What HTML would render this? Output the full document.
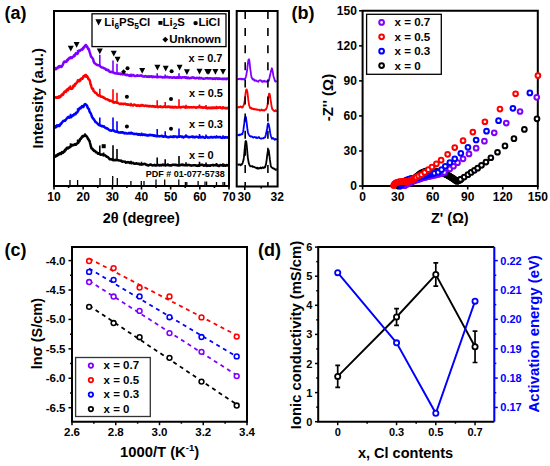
<!DOCTYPE html>
<html><head><meta charset="utf-8"><style>
html,body{margin:0;padding:0;background:#fff;width:550px;height:466px;overflow:hidden}
svg{display:block}
</style></head><body>
<svg width="550" height="466" viewBox="0 0 550 466" font-family="Liberation Sans, sans-serif" font-weight="bold">
<rect width="550" height="466" fill="#fff"/>
<text x="4.5" y="19.2" font-size="18" text-anchor="start" fill="#000" >(a)</text>
<text x="291.5" y="19.2" font-size="18" text-anchor="start" fill="#000" >(b)</text>
<text x="4.5" y="255.8" font-size="18" text-anchor="start" fill="#000" >(c)</text>
<text x="258" y="255.8" font-size="18" text-anchor="start" fill="#000" >(d)</text>
<g fill="none" stroke-linejoin="round" stroke-linecap="round">
<path d="M54.5,156.81 L55,156.07 L55.5,156.62 L56,155.56 L56.5,155.9 L57,155.58 L57.5,154.68 L58,155.06 L58.5,154.15 L59,154.42 L59.5,153.67 L60,153.25 L60.5,153.41 L61,154.06 L61.5,152.69 L62,152.04 L62.5,152.33 L63,152.87 L63.5,152.13 L64,151.2 L64.5,151.71 L65,149.82 L65.5,150.38 L66,149.32 L66.5,148.39 L67,147.75 L67.5,147.68 L68,148.5 L68.5,147.42 L69,147.57 L69.5,147.58 L70,146.88 L70.5,146.74 L71,145.53 L71.5,144.89 L72,144.78 L72.5,145.56 L73,145.28 L73.5,144.8 L74,145.01 L74.5,144.71 L75,144.14 L75.5,144.77 L76,144.73 L76.5,143.67 L77,143.73 L77.5,143.07 L78,143.09 L78.5,142.42 L79,140.84 L79.5,141.15 L80,139.15 L80.5,138.68 L81,138.88 L81.5,137.46 L82,137.24 L82.5,135.95 L83,136.37 L83.5,136.48 L84,135.86 L84.5,135.92 L85,134.54 L85.5,135.44 L86,135.94 L86.5,136.42 L87,136.68 L87.5,137.87 L88,138.9 L88.5,139.07 L89,140.57 L89.5,140.82 L90,143.01 L90.5,144.69 L91,146.93 L91.5,148.38 L92,148.24 L92.5,148.77 L93,150.03 L93.5,149.74 L94,150.94 L94.5,150.78 L95,151.18 L95.5,151.46 L96,152.36 L96.5,152.34 L97,152.58 L97.5,152.96 L98,153.71 L98.5,153.34 L99,153.58 L99.5,153.84 L100,154.33 L100.5,154.56 L101,154.77 L101.5,154.41 L102,154.44 L102.5,154.47 L103,155.03 L103.5,155.41 L104,154.93 L104.5,155.01 L105,155.28 L105.5,155.59 L106,156.13 L106.5,156.66 L107,156.78 L107.5,156.79 L108,157.35 L108.5,157.74 L109,158.28 L109.5,159.05 L110,159.34 L110.5,159.28 L111,159.4 L111.5,159.57 L112,159.15 L112.5,159.78 L113,160.01 L113.5,160.27 L114,160.37 L114.5,160.11 L115,160.07 L115.5,159.84 L116,160.27 L116.5,160.01 L117,159.96 L117.5,160.13 L118,160.22 L118.5,160.48 L119,160.4 L119.5,160.38 L120,160.57 L120.5,160.64 L121,160.96 L121.5,160.84 L122,161.6 L122.5,161.76 L123,161.45 L123.5,161.46 L124,161.59 L124.5,161.71 L125,161.6 L125.5,162.25 L126,162.71 L126.5,162.5 L127,162.46 L127.5,162.13 L128,162.05 L128.5,162.27 L129,162.35 L129.5,162.94 L130,162.65 L130.5,162.41 L131,163.17 L131.5,163.16 L132,162.84 L132.5,163.08 L133,162.75 L133.5,163.08 L134,163.67 L134.5,163.86 L135,163.82 L135.5,163.44 L136,163.39 L136.5,163.22 L137,163.72 L137.5,163.75 L138,164.02 L138.5,163.77 L139,163.58 L139.5,164.06 L140,164.46 L140.5,164.55 L141,164.58 L141.5,164.63 L142,164.61 L142.5,164.17 L143,164.26 L143.5,164.19 L144,163.89 L144.5,163.78 L145,163.99 L145.5,164.09 L146,164.56 L146.5,165.03 L147,164.82 L147.5,165.19 L148,165.43 L148.5,165.54 L149,165.09 L149.5,164.78 L150,164.68 L150.5,164.58 L151,164.55 L151.5,164.91 L152,165.32 L152.5,165.45 L153,165.18 L153.5,165.22 L154,165.37 L154.5,164.79 L155,165.05 L155.5,165.39 L156,165.43 L156.5,165.42 L157,165.17 L157.5,164.79 L158,165.16 L158.5,164.92 L159,165.24 L159.5,165.53 L160,165.15 L160.5,164.98 L161,165.39 L161.5,165.38 L162,164.87 L162.5,164.61 L163,164.51 L163.5,165.14 L164,165.34 L164.5,164.83 L165,165.22 L165.5,165.53 L166,165.39 L166.5,165.05 L167,165.08 L167.5,164.71 L168,164.45 L168.5,165.19 L169,165.24 L169.5,165.15 L170,165.48 L170.5,165.18 L171,165.44 L171.5,165.52 L172,165.01 L172.5,164.81 L173,164.77 L173.5,164.7 L174,164.98 L174.5,164.82 L175,164.89 L175.5,164.67 L176,165.27 L176.5,165.04 L177,165.03 L177.5,165.15 L178,165.49 L178.5,165.21 L179,165.53 L179.5,165.3 L180,165.23 L180.5,165.19 L181,164.72 L181.5,164.89 L182,164.74 L182.5,164.51 L183,165.13 L183.5,164.84 L184,164.99 L184.5,165.28 L185,165.27 L185.5,165.05 L186,165.13 L186.5,165.2 L187,165.44 L187.5,164.94 L188,165.13 L188.5,164.93 L189,164.87 L189.5,165.3 L190,165.25 L190.5,165.28 L191,165.47 L191.5,165.7 L192,165.38 L192.5,165.39 L193,165.3 L193.5,165.27 L194,165.42 L194.5,165.28 L195,165.28 L195.5,165.24 L196,165.64 L196.5,165.6 L197,165.75 L197.5,165.88 L198,165.32 L198.5,165.34 L199,165.7 L199.5,165.77 L200,165.17 L200.5,164.89 L201,165.06 L201.5,164.8 L202,164.84 L202.5,164.71 L203,165.18 L203.5,165.51 L204,165.75 L204.5,165.2 L205,165.46 L205.5,165.53 L206,165.09 L206.5,165.57 L207,165.86 L207.5,165.32 L208,165.74 L208.5,165.43 L209,165.37 L209.5,165.8 L210,165.85 L210.5,165.28 L211,165.26 L211.5,165.33 L212,165.21 L212.5,165.03 L213,165.06 L213.5,165.44 L214,164.98 L214.5,165.25 L215,165.28 L215.5,164.91 L216,165.03 L216.5,165.35 L217,165.39 L217.5,165.01 L218,165.67 L218.5,165.79 L219,166.02 L219.5,165.34 L220,165.18 L220.5,164.91 L221,165.45 L221.5,165.24 L222,165.02 L222.5,165.19 L223,165.71 L223.5,165.86 L224,165.42 L224.5,165.13 L225,165.7 L225.5,165.64 L226,165.73 L226.5,165.23 L227,164.97 L227.5,165.43 L228,165.4 L228.5,165.07" stroke="#000" stroke-width="2.5"/>
<path d="M70.5,147.21 L70.5,143.26 M77.6,143.36 L77.6,139.41 M99.8,154.45 L99.8,145.45 M113,160.16 L113,145.28 M117,161.04 L117,149.04 M131,163.5 L131,160.7 M141.5,164.61 L141.5,161.81 M157.2,165.5 L157.2,157.53 M165.2,165.5 L165.2,159.25 M179,165.61 L179,155.91 M186,165.66 L186,162.29 M199.5,165.77 L199.5,161.82 M206,165.82 L206,162.45 M216.5,165.9 L216.5,163.1 M223,165.95 L223,163.15 M103.6,155.4 L103.6,152.4" stroke="#000" stroke-width="1.6" stroke-linecap="butt"/>
<path d="M54.5,127.89 L55,127.49 L55.5,127.53 L56,126 L56.5,126.76 L57,125.4 L57.5,126.3 L58,125.76 L58.5,125.19 L59,125.25 L59.5,125.93 L60,124.8 L60.5,123.9 L61,124.2 L61.5,123.37 L62,122.48 L62.5,121.94 L63,121.21 L63.5,120.93 L64,120.78 L64.5,120.44 L65,120.95 L65.5,119.98 L66,119.71 L66.5,118.71 L67,118.48 L67.5,117.54 L68,117.41 L68.5,116.7 L69,117.66 L69.5,117.55 L70,116.59 L70.5,116.56 L71,117.3 L71.5,115.79 L72,116.35 L72.5,115.57 L73,115.12 L73.5,115.38 L74,114.37 L74.5,113.93 L75,113.87 L75.5,114.21 L76,112.85 L76.5,113 L77,112.59 L77.5,112.03 L78,111.04 L78.5,110.23 L79,109.02 L79.5,108.38 L80,107.72 L80.5,108.53 L81,107.67 L81.5,106.84 L82,106.06 L82.5,106.99 L83,107.22 L83.5,106.69 L84,105.42 L84.5,104.53 L85,104 L85.5,104.4 L86,104.41 L86.5,105.26 L87,105.54 L87.5,107.34 L88,108.44 L88.5,108.7 L89,109.18 L89.5,111.61 L90,112.13 L90.5,113.21 L91,113.72 L91.5,115.47 L92,116.78 L92.5,117.83 L93,118.15 L93.5,119.37 L94,119.36 L94.5,120.34 L95,121.26 L95.5,122 L96,122.22 L96.5,122.5 L97,123.1 L97.5,123.51 L98,124.22 L98.5,124.58 L99,125.01 L99.5,125.23 L100,125.48 L100.5,125.85 L101,125.68 L101.5,125.65 L102,126.33 L102.5,125.99 L103,126.46 L103.5,126.7 L104,126.37 L104.5,127.04 L105,127.54 L105.5,127.71 L106,128.04 L106.5,128.42 L107,128.14 L107.5,128.52 L108,128.83 L108.5,129.43 L109,129.83 L109.5,130.19 L110,130.29 L110.5,130.61 L111,130.63 L111.5,130.72 L112,130.41 L112.5,130.16 L113,130.21 L113.5,130.51 L114,130.48 L114.5,131.19 L115,131.33 L115.5,131.53 L116,131.68 L116.5,131.87 L117,131.85 L117.5,131.47 L118,132.09 L118.5,132.39 L119,132.37 L119.5,132.46 L120,132.68 L120.5,132.24 L121,132.67 L121.5,132.46 L122,132.23 L122.5,132.33 L123,132.82 L123.5,132.59 L124,133 L124.5,133.42 L125,133.21 L125.5,133.04 L126,133.08 L126.5,133.3 L127,133.51 L127.5,133.49 L128,133.54 L128.5,133.08 L129,132.96 L129.5,133.03 L130,133.53 L130.5,133.38 L131,133.58 L131.5,133.19 L132,133.08 L132.5,133.25 L133,133.71 L133.5,133.96 L134,134.08 L134.5,133.82 L135,133.93 L135.5,133.95 L136,133.99 L136.5,133.72 L137,134.32 L137.5,133.99 L138,134.57 L138.5,134.81 L139,134.12 L139.5,134.23 L140,134.63 L140.5,134.97 L141,134.68 L141.5,134.41 L142,134.26 L142.5,134.88 L143,134.53 L143.5,134.72 L144,134.44 L144.5,134.68 L145,135.2 L145.5,134.72 L146,135.15 L146.5,135.09 L147,135.42 L147.5,135.44 L148,135.04 L148.5,135.49 L149,135.34 L149.5,134.89 L150,134.69 L150.5,135.06 L151,135.21 L151.5,135.17 L152,135.03 L152.5,135.18 L153,135.24 L153.5,135.77 L154,135.27 L154.5,135.75 L155,136.06 L155.5,135.58 L156,136.12 L156.5,136.19 L157,136.41 L157.5,135.99 L158,135.9 L158.5,135.9 L159,136.47 L159.5,136.38 L160,136.16 L160.5,136.14 L161,136.02 L161.5,135.78 L162,135.75 L162.5,136.42 L163,136.25 L163.5,136.78 L164,136.43 L164.5,136.31 L165,136.5 L165.5,136.28 L166,136.35 L166.5,136.91 L167,137.11 L167.5,137.13 L168,136.98 L168.5,137.17 L169,137.29 L169.5,136.99 L170,137.02 L170.5,136.43 L171,136.78 L171.5,136.69 L172,136.93 L172.5,136.94 L173,136.62 L173.5,136.27 L174,136.91 L174.5,136.48 L175,136.6 L175.5,136.54 L176,136.48 L176.5,136.85 L177,137.24 L177.5,136.77 L178,136.92 L178.5,136.67 L179,136.8 L179.5,136.71 L180,136.47 L180.5,136.36 L181,136.36 L181.5,136.99 L182,136.91 L182.5,136.62 L183,137.12 L183.5,137.43 L184,137.08 L184.5,136.64 L185,136.5 L185.5,136.35 L186,136.51 L186.5,136.36 L187,136.43 L187.5,136.48 L188,136.79 L188.5,137.22 L189,137.29 L189.5,137.03 L190,136.91 L190.5,136.96 L191,136.86 L191.5,136.78 L192,136.5 L192.5,136.57 L193,137.23 L193.5,136.77 L194,136.91 L194.5,137.09 L195,137.38 L195.5,136.93 L196,136.79 L196.5,136.7 L197,136.81 L197.5,136.9 L198,137.4 L198.5,137.54 L199,137.62 L199.5,136.9 L200,136.59 L200.5,137.06 L201,137.45 L201.5,137.24 L202,137.26 L202.5,136.74 L203,136.86 L203.5,137.4 L204,137.56 L204.5,137.66 L205,137.81 L205.5,137.24 L206,136.85 L206.5,136.73 L207,137.01 L207.5,137.28 L208,137.64 L208.5,137.61 L209,137.53 L209.5,137.6 L210,137.36 L210.5,137.35 L211,136.88 L211.5,137.34 L212,137.06 L212.5,137.56 L213,137.54 L213.5,137.22 L214,136.93 L214.5,136.91 L215,137.25 L215.5,137.47 L216,137.04 L216.5,136.81 L217,137.12 L217.5,137.32 L218,137.24 L218.5,137.05 L219,137.32 L219.5,136.91 L220,136.99 L220.5,137.17 L221,137.71 L221.5,137.67 L222,137.87 L222.5,137.6 L223,137.26 L223.5,137.13 L224,137.71 L224.5,137.75 L225,137.41 L225.5,137.01 L226,137.26 L226.5,137.53 L227,137.43 L227.5,137.24 L228,137.53 L228.5,137.9" stroke="#0000ff" stroke-width="2.5"/>
<path d="M70.5,117.39 L70.5,113.74 M77.6,111.82 L77.6,108.17 M99.8,125.61 L99.8,117.61 M113,131.25 L113,117.62 M117,132.25 L117,121.25 M131,134.09 L131,131.49 M141.5,135.03 L141.5,132.44 M157.2,136.42 L157.2,129.1 M165.2,137.1 L165.2,131.35 M179,137.3 L179,128.4 M186,137.4 L186,134.27 M199.5,137.59 L199.5,133.94 M206,137.68 L206,134.55 M216.5,137.82 L216.5,135.22 M223,137.92 L223,135.32" stroke="#0000ff" stroke-width="1.6" stroke-linecap="butt"/>
<path d="M54.5,98.05 L55,97.21 L55.5,97.34 L56,97.45 L56.5,97.92 L57,97.04 L57.5,97.75 L58,97.84 L58.5,97.3 L59,96.34 L59.5,97.34 L60,96.35 L60.5,96.83 L61,95.74 L61.5,94.81 L62,95.2 L62.5,94.16 L63,94.74 L63.5,93.79 L64,92.46 L64.5,91.66 L65,91.41 L65.5,91.52 L66,91.86 L66.5,90.16 L67,89.83 L67.5,89.16 L68,90.26 L68.5,88.91 L69,87.98 L69.5,87.42 L70,87.7 L70.5,88.69 L71,88.96 L71.5,88.63 L72,88.82 L72.5,88.47 L73,86.83 L73.5,85.56 L74,86.25 L74.5,85.93 L75,84.09 L75.5,84.3 L76,83.56 L76.5,82.97 L77,82.36 L77.5,81.51 L78,80.55 L78.5,80.42 L79,80.26 L79.5,81.16 L80,79.63 L80.5,80.39 L81,78.96 L81.5,78.36 L82,78.78 L82.5,78.73 L83,77.67 L83.5,76.19 L84,76.15 L84.5,75.69 L85,76.36 L85.5,74.96 L86,75.19 L86.5,76.75 L87,75.98 L87.5,76.69 L88,78.1 L88.5,79.27 L89,79.31 L89.5,80.06 L90,81.2 L90.5,84.21 L91,84.96 L91.5,87.05 L92,88.62 L92.5,88.6 L93,88.92 L93.5,90.91 L94,91.57 L94.5,91.61 L95,92.67 L95.5,92.83 L96,93.08 L96.5,93.15 L97,94.07 L97.5,94.83 L98,95.13 L98.5,95.66 L99,95.17 L99.5,95.27 L100,95.65 L100.5,96.38 L101,96.83 L101.5,96.65 L102,96.57 L102.5,96.82 L103,97.12 L103.5,97.76 L104,97.51 L104.5,98.08 L105,98.43 L105.5,98.83 L106,99.13 L106.5,99.28 L107,99.25 L107.5,99.39 L108,99.64 L108.5,100.3 L109,100.12 L109.5,100.3 L110,101.04 L110.5,100.92 L111,100.77 L111.5,100.75 L112,101.28 L112.5,101.39 L113,102.09 L113.5,102.4 L114,102.7 L114.5,102.25 L115,101.96 L115.5,101.92 L116,102.33 L116.5,102.77 L117,102.81 L117.5,102.71 L118,102.9 L118.5,103.24 L119,103.51 L119.5,103.77 L120,104.05 L120.5,104 L121,103.53 L121.5,103.99 L122,103.74 L122.5,103.9 L123,103.83 L123.5,104.15 L124,103.84 L124.5,103.78 L125,103.78 L125.5,103.73 L126,104.39 L126.5,104.44 L127,104.27 L127.5,104.29 L128,104.86 L128.5,104.71 L129,104.43 L129.5,104.85 L130,104.93 L130.5,105.29 L131,104.67 L131.5,104.75 L132,105.12 L132.5,105.33 L133,105.52 L133.5,104.84 L134,104.78 L134.5,104.62 L135,104.64 L135.5,105.37 L136,105.38 L136.5,105.72 L137,105.39 L137.5,105.71 L138,105.5 L138.5,105.26 L139,105.64 L139.5,105.99 L140,105.41 L140.5,105.62 L141,105.75 L141.5,105.48 L142,105.51 L142.5,105.35 L143,105.35 L143.5,105.42 L144,105.79 L144.5,106.02 L145,105.75 L145.5,105.48 L146,105.66 L146.5,106.08 L147,105.85 L147.5,105.89 L148,105.83 L148.5,106.36 L149,106.4 L149.5,106 L150,105.88 L150.5,106.09 L151,106.33 L151.5,106.53 L152,106.13 L152.5,106.03 L153,106.47 L153.5,106.42 L154,106.3 L154.5,106.27 L155,106.85 L155.5,106.54 L156,106.64 L156.5,106.51 L157,106.51 L157.5,106.92 L158,107.24 L158.5,106.82 L159,106.49 L159.5,106.83 L160,106.52 L160.5,106.21 L161,106.88 L161.5,106.77 L162,107.08 L162.5,106.86 L163,107.2 L163.5,106.98 L164,106.62 L164.5,106.34 L165,106.7 L165.5,106.95 L166,107.3 L166.5,106.73 L167,106.96 L167.5,106.84 L168,106.91 L168.5,106.62 L169,106.62 L169.5,106.84 L170,107.31 L170.5,106.79 L171,106.9 L171.5,107.24 L172,107.54 L172.5,106.99 L173,106.68 L173.5,107.29 L174,107.59 L174.5,107.29 L175,106.77 L175.5,107.33 L176,107.1 L176.5,107.47 L177,107.38 L177.5,107.53 L178,107 L178.5,107.34 L179,106.98 L179.5,106.99 L180,107.4 L180.5,107.57 L181,107.07 L181.5,106.88 L182,106.97 L182.5,107.12 L183,107.07 L183.5,106.81 L184,106.82 L184.5,107.25 L185,107.61 L185.5,107 L186,107.21 L186.5,107.48 L187,106.96 L187.5,107.45 L188,107.02 L188.5,107.27 L189,107.34 L189.5,107.45 L190,107.21 L190.5,107.21 L191,107.37 L191.5,107.3 L192,107.48 L192.5,107.38 L193,107.33 L193.5,106.94 L194,107.3 L194.5,107.35 L195,107.15 L195.5,107.54 L196,107.74 L196.5,107.54 L197,107.21 L197.5,107.32 L198,107.05 L198.5,106.96 L199,107.19 L199.5,106.99 L200,107.22 L200.5,107.39 L201,107.05 L201.5,107.44 L202,107.12 L202.5,107.57 L203,107.81 L203.5,107.69 L204,107.23 L204.5,107.43 L205,107.41 L205.5,107.92 L206,107.42 L206.5,107.85 L207,108.18 L207.5,108.09 L208,108.13 L208.5,107.59 L209,108.06 L209.5,107.84 L210,108.16 L210.5,108.28 L211,107.66 L211.5,107.94 L212,108.21 L212.5,107.55 L213,107.52 L213.5,107.87 L214,107.5 L214.5,108 L215,107.67 L215.5,108.01 L216,107.57 L216.5,107.69 L217,108.13 L217.5,107.69 L218,107.55 L218.5,107.71 L219,107.61 L219.5,107.32 L220,107.33 L220.5,107.32 L221,108.01 L221.5,108.1 L222,108.34 L222.5,107.8 L223,108.11 L223.5,107.66 L224,107.83 L224.5,108.01 L225,107.84 L225.5,108.24 L226,108.13 L226.5,108.11 L227,108.38 L227.5,107.8 L228,108.35 L228.5,108.27" stroke="#ff0000" stroke-width="2.5"/>
<path d="M70.5,88.76 L70.5,85.26 M77.6,82.82 L77.6,79.32 M99.8,96.23 L99.8,88.73 M113,102.28 L113,89.28 M117,103.32 L117,92.82 M131,105.28 L131,102.78 M141.5,106.18 L141.5,103.68 M157.2,107.14 L157.2,100.14 M165.2,107.4 L165.2,101.9 M179,107.64 L179,99.14 M186,107.76 L186,104.76 M199.5,107.99 L199.5,104.49 M206,108.1 L206,105.1 M216.5,108.29 L216.5,105.79 M223,108.4 L223,105.9" stroke="#ff0000" stroke-width="1.6" stroke-linecap="butt"/>
<path d="M54.5,68.59 L55,69.12 L55.5,68.17 L56,69.11 L56.5,68.59 L57,67.81 L57.5,68.17 L58,67.57 L58.5,66.66 L59,67.29 L59.5,66.06 L60,66.97 L60.5,66.12 L61,66.41 L61.5,66.84 L62,65.96 L62.5,65.45 L63,64.24 L63.5,62.79 L64,61.94 L64.5,61.52 L65,62 L65.5,61.58 L66,61.28 L66.5,61.7 L67,60.27 L67.5,59.66 L68,60.11 L68.5,58.88 L69,58.14 L69.5,58.36 L70,57.81 L70.5,57.92 L71,57.55 L71.5,57.97 L72,57.98 L72.5,56.89 L73,56.99 L73.5,56.49 L74,55.33 L74.5,56.18 L75,54.91 L75.5,53.89 L76,53.08 L76.5,53.56 L77,54 L77.5,53.77 L78,52.66 L78.5,51.65 L79,50.44 L79.5,50.94 L80,50.75 L80.5,50 L81,50.02 L81.5,49.38 L82,49.85 L82.5,49.41 L83,47.99 L83.5,48.43 L84,46.64 L84.5,46.58 L85,46.05 L85.5,45.23 L86,45.01 L86.5,46.73 L87,46.23 L87.5,47.36 L88,48.94 L88.5,48.65 L89,49.62 L89.5,51.64 L90,53.09 L90.5,54.77 L91,56.62 L91.5,56.91 L92,57.66 L92.5,58.41 L93,58.71 L93.5,61.03 L94,62.33 L94.5,63.25 L95,63.16 L95.5,63.88 L96,64.3 L96.5,64.44 L97,64.94 L97.5,65.09 L98,65.15 L98.5,65.19 L99,65.42 L99.5,65.48 L100,65.89 L100.5,66.58 L101,66.96 L101.5,67.4 L102,67.6 L102.5,67.41 L103,67.71 L103.5,67.86 L104,68.38 L104.5,68.49 L105,68.46 L105.5,68.96 L106,69.64 L106.5,69.43 L107,70.09 L107.5,69.76 L108,70 L108.5,70.24 L109,70.97 L109.5,71.63 L110,71.91 L110.5,71.65 L111,72.11 L111.5,71.88 L112,71.77 L112.5,72.39 L113,72.49 L113.5,72.65 L114,72.77 L114.5,73.18 L115,72.97 L115.5,73.28 L116,73.36 L116.5,73.61 L117,73.41 L117.5,73.65 L118,73.69 L118.5,73.54 L119,73.45 L119.5,73.85 L120,73.61 L120.5,74.26 L121,73.9 L121.5,73.66 L122,73.67 L122.5,74.44 L123,74.3 L123.5,74.09 L124,73.93 L124.5,73.91 L125,74.52 L125.5,74.78 L126,74.98 L126.5,75.15 L127,74.66 L127.5,74.94 L128,74.9 L128.5,75.33 L129,75.56 L129.5,75.76 L130,75.15 L130.5,75.6 L131,75.86 L131.5,76.03 L132,75.37 L132.5,75.18 L133,75.03 L133.5,74.91 L134,75.61 L134.5,75.91 L135,75.9 L135.5,76.09 L136,76.02 L136.5,75.7 L137,75.4 L137.5,75.29 L138,75.85 L138.5,75.63 L139,75.65 L139.5,75.77 L140,75.48 L140.5,75.58 L141,75.67 L141.5,76.12 L142,76.03 L142.5,75.96 L143,76.53 L143.5,76.39 L144,76.66 L144.5,76.59 L145,76.05 L145.5,76.17 L146,76.27 L146.5,76.63 L147,76.43 L147.5,76.68 L148,76.67 L148.5,76.39 L149,76.86 L149.5,76.4 L150,76.87 L150.5,76.5 L151,76.19 L151.5,76.24 L152,76.77 L152.5,77.22 L153,76.55 L153.5,76.7 L154,76.77 L154.5,77.09 L155,76.69 L155.5,76.8 L156,76.72 L156.5,77.14 L157,76.82 L157.5,77.3 L158,76.93 L158.5,76.71 L159,77.06 L159.5,77.04 L160,76.69 L160.5,77.02 L161,76.68 L161.5,77.17 L162,77.31 L162.5,77.47 L163,77.41 L163.5,77.14 L164,77.07 L164.5,77.05 L165,77.49 L165.5,76.97 L166,77.47 L166.5,76.92 L167,76.85 L167.5,76.87 L168,77.46 L168.5,77.38 L169,77.24 L169.5,77.63 L170,77.23 L170.5,77.27 L171,77.35 L171.5,77.6 L172,77.72 L172.5,77.68 L173,77.4 L173.5,77.27 L174,77.06 L174.5,77.59 L175,77.67 L175.5,77.79 L176,77.33 L176.5,77.38 L177,77.71 L177.5,77.69 L178,77.28 L178.5,77.4 L179,77.85 L179.5,77.47 L180,77.27 L180.5,77.29 L181,77.66 L181.5,77.96 L182,77.49 L182.5,77.28 L183,77.28 L183.5,77.36 L184,77.57 L184.5,77.35 L185,77.41 L185.5,77.32 L186,78 L186.5,78.08 L187,77.57 L187.5,78.12 L188,77.6 L188.5,77.62 L189,78.18 L189.5,78.27 L190,78.26 L190.5,78 L191,77.67 L191.5,77.93 L192,77.57 L192.5,77.51 L193,77.66 L193.5,77.41 L194,77.63 L194.5,78.09 L195,78.22 L195.5,78.11 L196,78.19 L196.5,78.08 L197,77.75 L197.5,78.02 L198,77.97 L198.5,78.26 L199,78.55 L199.5,78.25 L200,78.26 L200.5,78.42 L201,78.21 L201.5,77.95 L202,78.28 L202.5,78.58 L203,78.63 L203.5,78.59 L204,78.72 L204.5,78.63 L205,78.56 L205.5,78.37 L206,78.16 L206.5,78.36 L207,77.98 L207.5,78.11 L208,78.5 L208.5,78.62 L209,78.6 L209.5,78.26 L210,78.27 L210.5,78.31 L211,78.49 L211.5,78.38 L212,78.58 L212.5,78.91 L213,78.39 L213.5,78.59 L214,78.8 L214.5,78.55 L215,78.53 L215.5,78.97 L216,78.33 L216.5,78.51 L217,78.25 L217.5,78.7 L218,79.05 L218.5,78.84 L219,78.37 L219.5,78.6 L220,78.68 L220.5,78.88 L221,78.79 L221.5,78.87 L222,79.09 L222.5,78.91 L223,78.74 L223.5,79.16 L224,78.69 L224.5,78.91 L225,78.76 L225.5,79.03 L226,78.58 L226.5,79.16 L227,78.86 L227.5,78.47 L228,78.49 L228.5,78.63" stroke="#8000ff" stroke-width="2.5"/>
<path d="M70.5,59.26 L70.5,55.91 M77.6,53.33 L77.6,49.98 M99.8,66.73 L99.8,54.73 M113,72.75 L113,60.38 M117,73.75 L117,63.75 M131,75.87 L131,73.47 M141.5,76.61 L141.5,74.2 M157.2,77.44 L157.2,73.36 M165.2,77.71 L165.2,74.46 M179,78.07 L179,73.17 M186,78.26 L186,76.38 M199.5,78.62 L199.5,76.47 M206,78.79 L206,76.91 M216.5,79.07 L216.5,77.47 M223,79.24 L223,77.64" stroke="#8000ff" stroke-width="1.6" stroke-linecap="butt"/>
</g>
<line x1="70" y1="186" x2="70" y2="180" stroke="#000" stroke-width="1.3" />
<line x1="77.6" y1="186" x2="77.6" y2="180" stroke="#000" stroke-width="1.3" />
<line x1="100" y1="186" x2="100" y2="178" stroke="#000" stroke-width="1.3" />
<line x1="112.7" y1="186" x2="112.7" y2="176" stroke="#000" stroke-width="1.3" />
<line x1="117.3" y1="186" x2="117.3" y2="178" stroke="#000" stroke-width="1.3" />
<line x1="130.9" y1="186" x2="130.9" y2="181" stroke="#000" stroke-width="1.3" />
<line x1="141.3" y1="186" x2="141.3" y2="181" stroke="#000" stroke-width="1.3" />
<line x1="144" y1="186" x2="144" y2="181" stroke="#000" stroke-width="1.3" />
<line x1="156" y1="186" x2="156" y2="179.5" stroke="#000" stroke-width="1.3" />
<line x1="164.7" y1="186" x2="164.7" y2="179.5" stroke="#000" stroke-width="1.3" />
<line x1="178.8" y1="186" x2="178.8" y2="179.5" stroke="#000" stroke-width="1.3" />
<line x1="185.4" y1="186" x2="185.4" y2="182" stroke="#000" stroke-width="1.3" />
<line x1="186.8" y1="186" x2="186.8" y2="182" stroke="#000" stroke-width="1.3" />
<line x1="198.1" y1="186" x2="198.1" y2="181" stroke="#000" stroke-width="1.3" />
<line x1="205" y1="186" x2="205" y2="181.5" stroke="#000" stroke-width="1.3" />
<line x1="206.6" y1="186" x2="206.6" y2="181.5" stroke="#000" stroke-width="1.3" />
<line x1="216.5" y1="186" x2="216.5" y2="182" stroke="#000" stroke-width="1.3" />
<line x1="223" y1="186" x2="223" y2="182" stroke="#000" stroke-width="1.3" />
<line x1="224.6" y1="186" x2="224.6" y2="182" stroke="#000" stroke-width="1.3" />
<text x="224.8" y="176.5" font-size="9" text-anchor="end" fill="#000" >PDF # 01-077-5738</text>
<path d="M54,11 L229,11 L229,186 L54,186 Z" fill="none" stroke="#000" stroke-width="2"/>
<line x1="54" y1="186" x2="54" y2="189.5" stroke="#000" stroke-width="1.6" />
<line x1="68.58" y1="186" x2="68.58" y2="188" stroke="#000" stroke-width="1.6" />
<line x1="83.17" y1="186" x2="83.17" y2="189.5" stroke="#000" stroke-width="1.6" />
<line x1="97.75" y1="186" x2="97.75" y2="188" stroke="#000" stroke-width="1.6" />
<line x1="112.33" y1="186" x2="112.33" y2="189.5" stroke="#000" stroke-width="1.6" />
<line x1="126.92" y1="186" x2="126.92" y2="188" stroke="#000" stroke-width="1.6" />
<line x1="141.5" y1="186" x2="141.5" y2="189.5" stroke="#000" stroke-width="1.6" />
<line x1="156.08" y1="186" x2="156.08" y2="188" stroke="#000" stroke-width="1.6" />
<line x1="170.67" y1="186" x2="170.67" y2="189.5" stroke="#000" stroke-width="1.6" />
<line x1="185.25" y1="186" x2="185.25" y2="188" stroke="#000" stroke-width="1.6" />
<line x1="199.83" y1="186" x2="199.83" y2="189.5" stroke="#000" stroke-width="1.6" />
<line x1="214.42" y1="186" x2="214.42" y2="188" stroke="#000" stroke-width="1.6" />
<line x1="229" y1="186" x2="229" y2="189.5" stroke="#000" stroke-width="1.6" />
<text x="54" y="200.5" font-size="12" text-anchor="middle" fill="#000" >10</text>
<text x="83.17" y="200.5" font-size="12" text-anchor="middle" fill="#000" >20</text>
<text x="112.33" y="200.5" font-size="12" text-anchor="middle" fill="#000" >30</text>
<text x="141.5" y="200.5" font-size="12" text-anchor="middle" fill="#000" >40</text>
<text x="170.67" y="200.5" font-size="12" text-anchor="middle" fill="#000" >50</text>
<text x="199.83" y="200.5" font-size="12" text-anchor="middle" fill="#000" >60</text>
<text x="229" y="200.5" font-size="12" text-anchor="middle" fill="#000" >70</text>
<rect x="92" y="13.8" width="134" height="32.8" fill="#fff" stroke="#000" stroke-width="1.3"/>
<path d="M95.35,19.2 L101.85,19.2 L98.6,25.4 Z" fill="#000"/>
<text x="104.3" y="25.8" font-size="11.4">Li<tspan font-size="8.3" dy="3">6</tspan><tspan dy="-3">PS</tspan><tspan font-size="8.3" dy="3">5</tspan><tspan dy="-3">Cl</tspan></text>
<rect x="158.4" y="21" width="4" height="3.8" fill="#000"/>
<text x="162.6" y="25.8" font-size="11.4">Li<tspan font-size="8.3" dy="3">2</tspan><tspan dy="-3">S</tspan></text>
<circle cx="195.6" cy="23.1" r="2.2" fill="#000"/>
<text x="198.4" y="25.8" font-size="11.5" text-anchor="start" fill="#000" >LiCl</text>
<path d="M165.3,36.7 L168.2,39.6 L165.3,42.5 L162.4,39.6 Z" fill="#000"/>
<text x="169.2" y="42.6" font-size="11.5" text-anchor="start" fill="#000" >Unknown</text>
<path d="M67.8,45.7 L73.8,45.7 L70.8,51.5 Z" fill="#000"/>
<path d="M73.6,41.9 L79.6,41.9 L76.6,47.7 Z" fill="#000"/>
<path d="M96.8,48.5 L102.8,48.5 L99.8,54.3 Z" fill="#000"/>
<path d="M110.8,50.7 L116.8,50.7 L113.8,56.5 Z" fill="#000"/>
<path d="M114.6,56.7 L120.6,56.7 L117.6,62.5 Z" fill="#000"/>
<path d="M139.2,68 L145.2,68 L142.2,73.8 Z" fill="#000"/>
<path d="M154.4,64.7 L160.4,64.7 L157.4,70.5 Z" fill="#000"/>
<path d="M162.7,65.7 L168.7,65.7 L165.7,71.5 Z" fill="#000"/>
<path d="M176.6,64.7 L182.6,64.7 L179.6,70.5 Z" fill="#000"/>
<path d="M183.9,69.3 L189.9,69.3 L186.9,75.1 Z" fill="#000"/>
<path d="M196.5,68.7 L202.5,68.7 L199.5,74.5 Z" fill="#000"/>
<path d="M204.2,68.9 L210.2,68.9 L207.2,74.7 Z" fill="#000"/>
<path d="M205.8,68.9 L211.8,68.9 L208.8,74.7 Z" fill="#000"/>
<path d="M212.4,68.9 L218.4,68.9 L215.4,74.7 Z" fill="#000"/>
<path d="M220,68.9 L226,68.9 L223,74.7 Z" fill="#000"/>
<path d="M123.6,69.3 L126.1,71.8 L123.6,74.3 L121.1,71.8 Z" fill="#000"/>
<circle cx="127.5" cy="68.3" r="2.0" fill="#000"/>
<circle cx="171.6" cy="71.2" r="2.0" fill="#000"/>
<circle cx="126.9" cy="96.8" r="2.0" fill="#000"/>
<circle cx="171" cy="99" r="2.0" fill="#000"/>
<circle cx="126.9" cy="126.4" r="2.0" fill="#000"/>
<circle cx="171" cy="128.8" r="2.0" fill="#000"/>
<rect x="101.7" y="144.2" width="4" height="4" fill="#000"/>
<text x="222.5" y="62" font-size="11" text-anchor="end" fill="#000" >x = 0.7</text>
<text x="223" y="96.5" font-size="11" text-anchor="end" fill="#000" >x = 0.5</text>
<text x="223" y="127.7" font-size="11" text-anchor="end" fill="#000" >x = 0.3</text>
<text x="213.7" y="159.4" font-size="11" text-anchor="end" fill="#000" >x = 0</text>
<g fill="none" stroke-linejoin="round">
<path d="M237.5,164.11 L237.9,164.37 L238.3,164.5 L238.7,164.9 L239.1,164.67 L239.5,164.46 L239.9,164.3 L240.3,164.83 L240.7,165.28 L241.1,164.93 L241.5,164.31 L241.9,164.57 L242.3,163.9 L242.7,162.85 L243.1,161.36 L243.5,160.03 L243.9,157.44 L244.3,153.54 L244.7,148.95 L245.1,144.8 L245.5,141.39 L245.9,141.03 L246.3,141.81 L246.7,145.11 L247.1,149.69 L247.5,154.31 L247.9,157.92 L248.3,160.61 L248.7,162.88 L249.1,163.8 L249.5,165.28 L249.9,165.52 L250.3,166.34 L250.7,166.1 L251.1,166.21 L251.5,166.2 L251.9,166.47 L252.3,166.37 L252.7,166.17 L253.1,167 L253.5,166.9 L253.9,166.85 L254.3,166.95 L254.7,167.25 L255.1,167.36 L255.5,167.7 L255.9,167.91 L256.3,167.68 L256.7,168.29 L257.1,168.5 L257.5,167.67 L257.9,168.24 L258.3,168.61 L258.7,168.66 L259.1,167.92 L259.5,168.43 L259.9,168.44 L260.3,167.71 L260.7,167.38 L261.1,168.37 L261.5,168.45 L261.9,168 L262.3,167.6 L262.7,167.45 L263.1,167.46 L263.5,168.06 L263.9,167.74 L264.3,167.23 L264.7,167.67 L265.1,167.32 L265.5,165.69 L265.9,164.71 L266.3,162.36 L266.7,159.56 L267.1,156.13 L267.5,153.16 L267.9,150.8 L268.3,150.02 L268.7,150.18 L269.1,152.84 L269.5,156.04 L269.9,159.7 L270.3,162.47 L270.7,165.22 L271.1,166.63 L271.5,167.22 L271.9,167.61 L272.3,167.78 L272.7,168.35 L273.1,168.15 L273.5,168.61 L273.9,168.49 L274.3,168.9 L274.7,169.13 L275.1,169.32 L275.5,169.84 L275.9,169.07 L276.3,169.76 L276.7,169.65" stroke="#000" stroke-width="1.8"/>
<path d="M237.5,134.73 L237.9,134.92 L238.3,135.23 L238.7,134.82 L239.1,134.69 L239.5,135.28 L239.9,134.47 L240.3,134.77 L240.7,134.86 L241.1,134.11 L241.5,134.35 L241.9,134.33 L242.3,134.21 L242.7,132.74 L243.1,131.76 L243.5,129.19 L243.9,126.07 L244.3,123.14 L244.7,119.11 L245.1,117.24 L245.5,116.52 L245.9,117.14 L246.3,120.06 L246.7,123 L247.1,126.43 L247.5,129.54 L247.9,132.22 L248.3,133.34 L248.7,134.43 L249.1,135.09 L249.5,135.66 L249.9,136.34 L250.3,136.08 L250.7,136.68 L251.1,136.51 L251.5,136.62 L251.9,136.45 L252.3,136.7 L252.7,137.43 L253.1,137.42 L253.5,137.62 L253.9,137.2 L254.3,137.04 L254.7,136.98 L255.1,137.33 L255.5,137.58 L255.9,137.91 L256.3,137.19 L256.7,137.71 L257.1,138.17 L257.5,138 L257.9,137.35 L258.3,137.38 L258.7,137.06 L259.1,137.16 L259.5,138.09 L259.9,138.16 L260.3,138.26 L260.7,138.47 L261.1,138.72 L261.5,138.47 L261.9,138.37 L262.3,138.33 L262.7,138.38 L263.1,138.27 L263.5,138.28 L263.9,137.67 L264.3,137.84 L264.7,137.48 L265.1,137.36 L265.5,135.95 L265.9,134.52 L266.3,132.45 L266.7,130.85 L267.1,128.67 L267.5,126.03 L267.9,123.79 L268.3,123.51 L268.7,124.36 L269.1,126.08 L269.5,128.26 L269.9,130.87 L270.3,133.38 L270.7,135.17 L271.1,136.57 L271.5,137.7 L271.9,138.7 L272.3,138.18 L272.7,138.63 L273.1,138.25 L273.5,138.23 L273.9,139.1 L274.3,139.26 L274.7,139.78 L275.1,139.48 L275.5,138.87 L275.9,139.07 L276.3,139.44 L276.7,140.05" stroke="#0000ff" stroke-width="1.8"/>
<path d="M237.5,107.89 L237.9,107.57 L238.3,107.37 L238.7,106.91 L239.1,107.37 L239.5,107.06 L239.9,106.85 L240.3,106.59 L240.7,106.44 L241.1,107.18 L241.5,106.8 L241.9,107.6 L242.3,106.82 L242.7,107.27 L243.1,106.31 L243.5,105.28 L243.9,104.86 L244.3,102.87 L244.7,100.9 L245.1,97.36 L245.5,93.61 L245.9,91.26 L246.3,89.52 L246.7,89.41 L247.1,90.72 L247.5,92.64 L247.9,96.34 L248.3,99.97 L248.7,102.67 L249.1,105.32 L249.5,106.19 L249.9,107.7 L250.3,108.24 L250.7,107.73 L251.1,107.59 L251.5,108.36 L251.9,108.98 L252.3,108.43 L252.7,108.51 L253.1,109.1 L253.5,108.74 L253.9,109.45 L254.3,109.36 L254.7,108.84 L255.1,109.01 L255.5,109.36 L255.9,109.39 L256.3,109.71 L256.7,109.25 L257.1,109.84 L257.5,109.61 L257.9,109.87 L258.3,109.98 L258.7,109.8 L259.1,109.69 L259.5,110.14 L259.9,110.55 L260.3,110.55 L260.7,110.29 L261.1,109.86 L261.5,109.39 L261.9,110.27 L262.3,110.34 L262.7,110.52 L263.1,109.99 L263.5,110.07 L263.9,110.52 L264.3,110.52 L264.7,110.19 L265.1,109.62 L265.5,109.37 L265.9,109.58 L266.3,108.65 L266.7,107.91 L267.1,106.43 L267.5,104.69 L267.9,102.09 L268.3,98.59 L268.7,95.37 L269.1,93.7 L269.5,93.56 L269.9,94.97 L270.3,97.65 L270.7,100.8 L271.1,102.78 L271.5,105.76 L271.9,107.81 L272.3,109.21 L272.7,109.7 L273.1,109.69 L273.5,110.45 L273.9,110.8 L274.3,110.86 L274.7,111.22 L275.1,110.74 L275.5,110.24 L275.9,110.62 L276.3,111.11 L276.7,110.65" stroke="#ff0000" stroke-width="1.8"/>
<path d="M237.5,79.09 L237.9,79.48 L238.3,78.84 L238.7,79.01 L239.1,79.19 L239.5,79.03 L239.9,78.66 L240.3,78.57 L240.7,79.13 L241.1,79.43 L241.5,79.17 L241.9,78.61 L242.3,79.21 L242.7,79.43 L243.1,78.86 L243.5,78.99 L243.9,79.39 L244.3,79.48 L244.7,78.97 L245.1,78.48 L245.5,78.01 L245.9,76.66 L246.3,75.01 L246.7,72.72 L247.1,70.35 L247.5,66.73 L247.9,63.42 L248.3,60.56 L248.7,59.34 L249.1,59.44 L249.5,61.32 L249.9,65.62 L250.3,68.97 L250.7,71.86 L251.1,74.94 L251.5,77.21 L251.9,77.85 L252.3,78.87 L252.7,79.15 L253.1,79.57 L253.5,79.24 L253.9,79.17 L254.3,80.35 L254.7,80.78 L255.1,80.57 L255.5,80.62 L255.9,80.31 L256.3,80.83 L256.7,80.68 L257.1,81.27 L257.5,81.34 L257.9,81.47 L258.3,81.72 L258.7,81.01 L259.1,80.45 L259.5,80.41 L259.9,80.39 L260.3,80.28 L260.7,80.21 L261.1,80.8 L261.5,81.46 L261.9,81.27 L262.3,81.78 L262.7,81.97 L263.1,81.05 L263.5,81.28 L263.9,81.15 L264.3,80.76 L264.7,81.59 L265.1,81.11 L265.5,81.26 L265.9,81.4 L266.3,81.82 L266.7,81.64 L267.1,81.19 L267.5,80.99 L267.9,80.45 L268.3,80.99 L268.7,80.93 L269.1,79.44 L269.5,77.71 L269.9,76.06 L270.3,74.07 L270.7,72.49 L271.1,70.74 L271.5,69.45 L271.9,68.25 L272.3,69.61 L272.7,71.54 L273.1,73.8 L273.5,76.47 L273.9,77.47 L274.3,78.61 L274.7,80.18 L275.1,81.28 L275.5,81.55 L275.9,81.28 L276.3,81.56 L276.7,81.92" stroke="#8000ff" stroke-width="1.8"/>
</g>
<line x1="245.2" y1="11" x2="245.2" y2="186" stroke="#000" stroke-width="1.6" stroke-dasharray="8 9.1"/>
<line x1="267.9" y1="11" x2="267.9" y2="186" stroke="#000" stroke-width="1.6" stroke-dasharray="8 9.1"/>
<path d="M236.7,11 L277.6,11 L277.6,186.5 L236.7,186.5 Z" fill="none" stroke="#000" stroke-width="2"/>
<line x1="244.8" y1="186.5" x2="244.8" y2="190" stroke="#000" stroke-width="1.6" />
<line x1="261.2" y1="186.5" x2="261.2" y2="188.5" stroke="#000" stroke-width="1.6" />
<text x="244.3" y="200.5" font-size="12" text-anchor="middle" fill="#000" >30</text>
<text x="277.2" y="200.5" font-size="12" text-anchor="middle" fill="#000" >32</text>
<text transform="translate(43.3,98.3) rotate(-90)" x="0" y="0" font-size="14.8" text-anchor="middle" fill="#000">Intensity (a.u.)</text>
<text x="141.2" y="222.7" font-size="14.5" text-anchor="middle" fill="#000" >2θ (degree)</text>
<path d="M362.6,10.8 L537.8,10.8 L537.8,186 L362.6,186 Z" fill="none" stroke="#000" stroke-width="2"/>
<circle cx="397.64" cy="185.65" r="2.35" fill="#fff" stroke="#000" stroke-width="2.0"/>
<circle cx="399.52" cy="185.01" r="2.35" fill="#fff" stroke="#000" stroke-width="2.0"/>
<circle cx="401.41" cy="184.37" r="2.35" fill="#fff" stroke="#000" stroke-width="2.0"/>
<circle cx="403.29" cy="183.73" r="2.35" fill="#fff" stroke="#000" stroke-width="2.0"/>
<circle cx="405.14" cy="183" r="2.35" fill="#fff" stroke="#000" stroke-width="2.0"/>
<circle cx="406.99" cy="182.26" r="2.35" fill="#fff" stroke="#000" stroke-width="2.0"/>
<circle cx="408.84" cy="181.52" r="2.35" fill="#fff" stroke="#000" stroke-width="2.0"/>
<circle cx="410.59" cy="180.6" r="2.35" fill="#fff" stroke="#000" stroke-width="2.0"/>
<circle cx="412.32" cy="179.6" r="2.35" fill="#fff" stroke="#000" stroke-width="2.0"/>
<circle cx="414.04" cy="178.61" r="2.35" fill="#fff" stroke="#000" stroke-width="2.0"/>
<circle cx="415.56" cy="177.33" r="2.35" fill="#fff" stroke="#000" stroke-width="2.0"/>
<circle cx="417.09" cy="176.06" r="2.35" fill="#fff" stroke="#000" stroke-width="2.0"/>
<circle cx="418.64" cy="174.81" r="2.35" fill="#fff" stroke="#000" stroke-width="2.0"/>
<circle cx="420.19" cy="173.56" r="2.35" fill="#fff" stroke="#000" stroke-width="2.0"/>
<circle cx="421.89" cy="172.58" r="2.35" fill="#fff" stroke="#000" stroke-width="2.0"/>
<circle cx="423.76" cy="171.88" r="2.35" fill="#fff" stroke="#000" stroke-width="2.0"/>
<circle cx="425.62" cy="171.19" r="2.35" fill="#fff" stroke="#000" stroke-width="2.0"/>
<circle cx="427.59" cy="170.93" r="2.35" fill="#fff" stroke="#000" stroke-width="2.0"/>
<circle cx="429.56" cy="170.68" r="2.35" fill="#fff" stroke="#000" stroke-width="2.0"/>
<circle cx="431.54" cy="170.73" r="2.35" fill="#fff" stroke="#000" stroke-width="2.0"/>
<circle cx="433.51" cy="170.96" r="2.35" fill="#fff" stroke="#000" stroke-width="2.0"/>
<circle cx="435.49" cy="171.2" r="2.35" fill="#fff" stroke="#000" stroke-width="2.0"/>
<circle cx="437.43" cy="171.62" r="2.35" fill="#fff" stroke="#000" stroke-width="2.0"/>
<circle cx="439.35" cy="172.13" r="2.35" fill="#fff" stroke="#000" stroke-width="2.0"/>
<circle cx="441.27" cy="172.65" r="2.35" fill="#fff" stroke="#000" stroke-width="2.0"/>
<circle cx="443.19" cy="173.17" r="2.35" fill="#fff" stroke="#000" stroke-width="2.0"/>
<circle cx="445.03" cy="173.91" r="2.35" fill="#fff" stroke="#000" stroke-width="2.0"/>
<circle cx="446.8" cy="174.81" r="2.35" fill="#fff" stroke="#000" stroke-width="2.0"/>
<circle cx="448.57" cy="175.72" r="2.35" fill="#fff" stroke="#000" stroke-width="2.0"/>
<circle cx="450.27" cy="176.76" r="2.35" fill="#fff" stroke="#000" stroke-width="2.0"/>
<circle cx="451.93" cy="177.84" r="2.35" fill="#fff" stroke="#000" stroke-width="2.0"/>
<circle cx="453.6" cy="178.93" r="2.35" fill="#fff" stroke="#000" stroke-width="2.0"/>
<circle cx="455.23" cy="180.07" r="2.35" fill="#fff" stroke="#000" stroke-width="2.0"/>
<circle cx="456.86" cy="181.21" r="2.35" fill="#fff" stroke="#000" stroke-width="2.0"/>
<circle cx="439.69" cy="172.22" r="2.35" fill="#fff" stroke="#000" stroke-width="2.0"/>
<circle cx="440.81" cy="172.52" r="2.35" fill="#fff" stroke="#000" stroke-width="2.0"/>
<circle cx="441.94" cy="172.83" r="2.35" fill="#fff" stroke="#000" stroke-width="2.0"/>
<circle cx="443.07" cy="173.13" r="2.35" fill="#fff" stroke="#000" stroke-width="2.0"/>
<circle cx="444.18" cy="173.47" r="2.35" fill="#fff" stroke="#000" stroke-width="2.0"/>
<circle cx="445.22" cy="174.01" r="2.35" fill="#fff" stroke="#000" stroke-width="2.0"/>
<circle cx="446.26" cy="174.54" r="2.35" fill="#fff" stroke="#000" stroke-width="2.0"/>
<circle cx="447.3" cy="175.07" r="2.35" fill="#fff" stroke="#000" stroke-width="2.0"/>
<circle cx="448.34" cy="175.6" r="2.35" fill="#fff" stroke="#000" stroke-width="2.0"/>
<circle cx="449.36" cy="176.17" r="2.35" fill="#fff" stroke="#000" stroke-width="2.0"/>
<circle cx="450.34" cy="176.8" r="2.35" fill="#fff" stroke="#000" stroke-width="2.0"/>
<circle cx="451.31" cy="177.44" r="2.35" fill="#fff" stroke="#000" stroke-width="2.0"/>
<circle cx="452.29" cy="178.08" r="2.35" fill="#fff" stroke="#000" stroke-width="2.0"/>
<circle cx="453.27" cy="178.71" r="2.35" fill="#fff" stroke="#000" stroke-width="2.0"/>
<circle cx="454.24" cy="179.37" r="2.35" fill="#fff" stroke="#000" stroke-width="2.0"/>
<circle cx="455.19" cy="180.04" r="2.35" fill="#fff" stroke="#000" stroke-width="2.0"/>
<circle cx="456.15" cy="180.71" r="2.35" fill="#fff" stroke="#000" stroke-width="2.0"/>
<circle cx="457.15" cy="181.13" r="2.35" fill="#fff" stroke="#000" stroke-width="2.0"/>
<circle cx="458.27" cy="180.82" r="2.35" fill="#fff" stroke="#000" stroke-width="2.0"/>
<circle cx="459.34" cy="180.38" r="2.35" fill="#fff" stroke="#000" stroke-width="2.0"/>
<circle cx="460.32" cy="179.75" r="2.35" fill="#fff" stroke="#000" stroke-width="2.0"/>
<circle cx="461.3" cy="179.11" r="2.35" fill="#fff" stroke="#000" stroke-width="2.0"/>
<circle cx="460.48" cy="179.46" r="2.35" fill="#fff" stroke="#000" stroke-width="2.0"/>
<circle cx="464.22" cy="177.12" r="2.35" fill="#fff" stroke="#000" stroke-width="2.0"/>
<circle cx="467.95" cy="174.67" r="2.35" fill="#fff" stroke="#000" stroke-width="2.0"/>
<circle cx="471.11" cy="172.45" r="2.35" fill="#fff" stroke="#000" stroke-width="2.0"/>
<circle cx="474.38" cy="170.35" r="2.35" fill="#fff" stroke="#000" stroke-width="2.0"/>
<circle cx="477.65" cy="168.13" r="2.35" fill="#fff" stroke="#000" stroke-width="2.0"/>
<circle cx="481.5" cy="165.33" r="2.35" fill="#fff" stroke="#000" stroke-width="2.0"/>
<circle cx="485.94" cy="162.06" r="2.35" fill="#fff" stroke="#000" stroke-width="2.0"/>
<circle cx="490.85" cy="157.73" r="2.35" fill="#fff" stroke="#000" stroke-width="2.0"/>
<circle cx="497.5" cy="152.24" r="2.35" fill="#fff" stroke="#000" stroke-width="2.0"/>
<circle cx="504.98" cy="145.94" r="2.35" fill="#fff" stroke="#000" stroke-width="2.0"/>
<circle cx="513.97" cy="138.7" r="2.35" fill="#fff" stroke="#000" stroke-width="2.0"/>
<circle cx="524.37" cy="129.47" r="2.35" fill="#fff" stroke="#000" stroke-width="2.0"/>
<circle cx="536.98" cy="118.84" r="2.35" fill="#fff" stroke="#000" stroke-width="2.0"/>
<circle cx="404.65" cy="185.65" r="2.35" fill="#fff" stroke="#8000ff" stroke-width="2.0"/>
<circle cx="406.12" cy="184.84" r="2.35" fill="#fff" stroke="#8000ff" stroke-width="2.0"/>
<circle cx="407.6" cy="184.03" r="2.35" fill="#fff" stroke="#8000ff" stroke-width="2.0"/>
<circle cx="409.07" cy="183.22" r="2.35" fill="#fff" stroke="#8000ff" stroke-width="2.0"/>
<circle cx="410.59" cy="182.5" r="2.35" fill="#fff" stroke="#8000ff" stroke-width="2.0"/>
<circle cx="412.12" cy="181.79" r="2.35" fill="#fff" stroke="#8000ff" stroke-width="2.0"/>
<circle cx="413.64" cy="181.09" r="2.35" fill="#fff" stroke="#8000ff" stroke-width="2.0"/>
<circle cx="415.17" cy="180.39" r="2.35" fill="#fff" stroke="#8000ff" stroke-width="2.0"/>
<circle cx="416.78" cy="179.89" r="2.35" fill="#fff" stroke="#8000ff" stroke-width="2.0"/>
<circle cx="418.38" cy="179.38" r="2.35" fill="#fff" stroke="#8000ff" stroke-width="2.0"/>
<circle cx="419.99" cy="178.88" r="2.35" fill="#fff" stroke="#8000ff" stroke-width="2.0"/>
<circle cx="421.59" cy="178.37" r="2.35" fill="#fff" stroke="#8000ff" stroke-width="2.0"/>
<circle cx="423.19" cy="177.87" r="2.35" fill="#fff" stroke="#8000ff" stroke-width="2.0"/>
<circle cx="424.83" cy="177.48" r="2.35" fill="#fff" stroke="#8000ff" stroke-width="2.0"/>
<circle cx="426.47" cy="177.09" r="2.35" fill="#fff" stroke="#8000ff" stroke-width="2.0"/>
<circle cx="428.1" cy="176.71" r="2.35" fill="#fff" stroke="#8000ff" stroke-width="2.0"/>
<circle cx="429.74" cy="176.33" r="2.35" fill="#fff" stroke="#8000ff" stroke-width="2.0"/>
<circle cx="431.38" cy="175.95" r="2.35" fill="#fff" stroke="#8000ff" stroke-width="2.0"/>
<circle cx="433.02" cy="175.58" r="2.35" fill="#fff" stroke="#8000ff" stroke-width="2.0"/>
<circle cx="434.66" cy="175.2" r="2.35" fill="#fff" stroke="#8000ff" stroke-width="2.0"/>
<circle cx="436.3" cy="174.83" r="2.35" fill="#fff" stroke="#8000ff" stroke-width="2.0"/>
<circle cx="437.94" cy="174.45" r="2.35" fill="#fff" stroke="#8000ff" stroke-width="2.0"/>
<circle cx="439.55" cy="173.99" r="2.35" fill="#fff" stroke="#8000ff" stroke-width="2.0"/>
<circle cx="441.16" cy="173.48" r="2.35" fill="#fff" stroke="#8000ff" stroke-width="2.0"/>
<circle cx="442.76" cy="172.96" r="2.35" fill="#fff" stroke="#8000ff" stroke-width="2.0"/>
<circle cx="444.36" cy="172.45" r="2.35" fill="#fff" stroke="#8000ff" stroke-width="2.0"/>
<circle cx="449.73" cy="168.95" r="2.35" fill="#fff" stroke="#8000ff" stroke-width="2.0"/>
<circle cx="453.47" cy="166.26" r="2.35" fill="#fff" stroke="#8000ff" stroke-width="2.0"/>
<circle cx="457.56" cy="162.64" r="2.35" fill="#fff" stroke="#8000ff" stroke-width="2.0"/>
<circle cx="463.05" cy="158.79" r="2.35" fill="#fff" stroke="#8000ff" stroke-width="2.0"/>
<circle cx="469" cy="153.88" r="2.35" fill="#fff" stroke="#8000ff" stroke-width="2.0"/>
<circle cx="476.13" cy="148.16" r="2.35" fill="#fff" stroke="#8000ff" stroke-width="2.0"/>
<circle cx="484.42" cy="141.15" r="2.35" fill="#fff" stroke="#8000ff" stroke-width="2.0"/>
<circle cx="494.23" cy="132.86" r="2.35" fill="#fff" stroke="#8000ff" stroke-width="2.0"/>
<circle cx="506.26" cy="123.04" r="2.35" fill="#fff" stroke="#8000ff" stroke-width="2.0"/>
<circle cx="520.05" cy="111.48" r="2.35" fill="#fff" stroke="#8000ff" stroke-width="2.0"/>
<circle cx="536.75" cy="97.35" r="2.35" fill="#fff" stroke="#8000ff" stroke-width="2.0"/>
<circle cx="399.98" cy="186.35" r="2.35" fill="#fff" stroke="#0000ff" stroke-width="2.0"/>
<circle cx="400.92" cy="185.17" r="2.35" fill="#fff" stroke="#0000ff" stroke-width="2.0"/>
<circle cx="401.87" cy="183.98" r="2.35" fill="#fff" stroke="#0000ff" stroke-width="2.0"/>
<circle cx="402.93" cy="182.9" r="2.35" fill="#fff" stroke="#0000ff" stroke-width="2.0"/>
<circle cx="404.07" cy="181.91" r="2.35" fill="#fff" stroke="#0000ff" stroke-width="2.0"/>
<circle cx="405.22" cy="180.91" r="2.35" fill="#fff" stroke="#0000ff" stroke-width="2.0"/>
<circle cx="406.5" cy="180.15" r="2.35" fill="#fff" stroke="#0000ff" stroke-width="2.0"/>
<circle cx="407.93" cy="179.65" r="2.35" fill="#fff" stroke="#0000ff" stroke-width="2.0"/>
<circle cx="409.37" cy="179.15" r="2.35" fill="#fff" stroke="#0000ff" stroke-width="2.0"/>
<circle cx="410.81" cy="178.7" r="2.35" fill="#fff" stroke="#0000ff" stroke-width="2.0"/>
<circle cx="412.3" cy="178.43" r="2.35" fill="#fff" stroke="#0000ff" stroke-width="2.0"/>
<circle cx="413.8" cy="178.16" r="2.35" fill="#fff" stroke="#0000ff" stroke-width="2.0"/>
<circle cx="415.29" cy="177.89" r="2.35" fill="#fff" stroke="#0000ff" stroke-width="2.0"/>
<circle cx="416.78" cy="177.62" r="2.35" fill="#fff" stroke="#0000ff" stroke-width="2.0"/>
<circle cx="418.27" cy="177.32" r="2.35" fill="#fff" stroke="#0000ff" stroke-width="2.0"/>
<circle cx="419.76" cy="177.02" r="2.35" fill="#fff" stroke="#0000ff" stroke-width="2.0"/>
<circle cx="421.24" cy="176.72" r="2.35" fill="#fff" stroke="#0000ff" stroke-width="2.0"/>
<circle cx="422.73" cy="176.43" r="2.35" fill="#fff" stroke="#0000ff" stroke-width="2.0"/>
<circle cx="424.19" cy="176.03" r="2.35" fill="#fff" stroke="#0000ff" stroke-width="2.0"/>
<circle cx="425.64" cy="175.58" r="2.35" fill="#fff" stroke="#0000ff" stroke-width="2.0"/>
<circle cx="427.09" cy="175.12" r="2.35" fill="#fff" stroke="#0000ff" stroke-width="2.0"/>
<circle cx="428.53" cy="174.66" r="2.35" fill="#fff" stroke="#0000ff" stroke-width="2.0"/>
<circle cx="429.98" cy="174.2" r="2.35" fill="#fff" stroke="#0000ff" stroke-width="2.0"/>
<circle cx="431.46" cy="173.86" r="2.35" fill="#fff" stroke="#0000ff" stroke-width="2.0"/>
<circle cx="432.94" cy="173.57" r="2.35" fill="#fff" stroke="#0000ff" stroke-width="2.0"/>
<circle cx="434.43" cy="173.27" r="2.35" fill="#fff" stroke="#0000ff" stroke-width="2.0"/>
<circle cx="438.17" cy="172.33" r="2.35" fill="#fff" stroke="#0000ff" stroke-width="2.0"/>
<circle cx="441.56" cy="169.65" r="2.35" fill="#fff" stroke="#0000ff" stroke-width="2.0"/>
<circle cx="445.29" cy="166.26" r="2.35" fill="#fff" stroke="#0000ff" stroke-width="2.0"/>
<circle cx="449.85" cy="162.64" r="2.35" fill="#fff" stroke="#0000ff" stroke-width="2.0"/>
<circle cx="454.76" cy="158.79" r="2.35" fill="#fff" stroke="#0000ff" stroke-width="2.0"/>
<circle cx="460.83" cy="153.3" r="2.35" fill="#fff" stroke="#0000ff" stroke-width="2.0"/>
<circle cx="467.95" cy="147.34" r="2.35" fill="#fff" stroke="#0000ff" stroke-width="2.0"/>
<circle cx="476.13" cy="139.98" r="2.35" fill="#fff" stroke="#0000ff" stroke-width="2.0"/>
<circle cx="486.52" cy="131.22" r="2.35" fill="#fff" stroke="#0000ff" stroke-width="2.0"/>
<circle cx="498.56" cy="120.71" r="2.35" fill="#fff" stroke="#0000ff" stroke-width="2.0"/>
<circle cx="512.92" cy="108.33" r="2.35" fill="#fff" stroke="#0000ff" stroke-width="2.0"/>
<circle cx="529.86" cy="92.91" r="2.35" fill="#fff" stroke="#0000ff" stroke-width="2.0"/>
<circle cx="393.55" cy="185.53" r="2.35" fill="#fff" stroke="#ff0000" stroke-width="2.0"/>
<circle cx="394.18" cy="184.65" r="2.35" fill="#fff" stroke="#ff0000" stroke-width="2.0"/>
<circle cx="394.82" cy="183.76" r="2.35" fill="#fff" stroke="#ff0000" stroke-width="2.0"/>
<circle cx="395.54" cy="182.99" r="2.35" fill="#fff" stroke="#ff0000" stroke-width="2.0"/>
<circle cx="396.56" cy="182.62" r="2.35" fill="#fff" stroke="#ff0000" stroke-width="2.0"/>
<circle cx="397.58" cy="182.25" r="2.35" fill="#fff" stroke="#ff0000" stroke-width="2.0"/>
<circle cx="398.6" cy="181.87" r="2.35" fill="#fff" stroke="#ff0000" stroke-width="2.0"/>
<circle cx="399.68" cy="181.75" r="2.35" fill="#fff" stroke="#ff0000" stroke-width="2.0"/>
<circle cx="400.76" cy="181.7" r="2.35" fill="#fff" stroke="#ff0000" stroke-width="2.0"/>
<circle cx="401.85" cy="181.64" r="2.35" fill="#fff" stroke="#ff0000" stroke-width="2.0"/>
<circle cx="402.94" cy="181.59" r="2.35" fill="#fff" stroke="#ff0000" stroke-width="2.0"/>
<circle cx="404.02" cy="181.53" r="2.35" fill="#fff" stroke="#ff0000" stroke-width="2.0"/>
<circle cx="405.11" cy="181.48" r="2.35" fill="#fff" stroke="#ff0000" stroke-width="2.0"/>
<circle cx="406.2" cy="181.43" r="2.35" fill="#fff" stroke="#ff0000" stroke-width="2.0"/>
<circle cx="407.28" cy="181.37" r="2.35" fill="#fff" stroke="#ff0000" stroke-width="2.0"/>
<circle cx="408.35" cy="181.25" r="2.35" fill="#fff" stroke="#ff0000" stroke-width="2.0"/>
<circle cx="409.36" cy="180.84" r="2.35" fill="#fff" stroke="#ff0000" stroke-width="2.0"/>
<circle cx="410.37" cy="180.44" r="2.35" fill="#fff" stroke="#ff0000" stroke-width="2.0"/>
<circle cx="411.38" cy="180.04" r="2.35" fill="#fff" stroke="#ff0000" stroke-width="2.0"/>
<circle cx="412.39" cy="179.63" r="2.35" fill="#fff" stroke="#ff0000" stroke-width="2.0"/>
<circle cx="413.35" cy="179.12" r="2.35" fill="#fff" stroke="#ff0000" stroke-width="2.0"/>
<circle cx="414.26" cy="178.53" r="2.35" fill="#fff" stroke="#ff0000" stroke-width="2.0"/>
<circle cx="415.18" cy="177.95" r="2.35" fill="#fff" stroke="#ff0000" stroke-width="2.0"/>
<circle cx="416.09" cy="177.36" r="2.35" fill="#fff" stroke="#ff0000" stroke-width="2.0"/>
<circle cx="418.66" cy="175.96" r="2.35" fill="#fff" stroke="#ff0000" stroke-width="2.0"/>
<circle cx="421.47" cy="174.67" r="2.35" fill="#fff" stroke="#ff0000" stroke-width="2.0"/>
<circle cx="424.74" cy="172.45" r="2.35" fill="#fff" stroke="#ff0000" stroke-width="2.0"/>
<circle cx="428.36" cy="169.65" r="2.35" fill="#fff" stroke="#ff0000" stroke-width="2.0"/>
<circle cx="431.98" cy="167.08" r="2.35" fill="#fff" stroke="#ff0000" stroke-width="2.0"/>
<circle cx="436.42" cy="163.81" r="2.35" fill="#fff" stroke="#ff0000" stroke-width="2.0"/>
<circle cx="441.09" cy="160.19" r="2.35" fill="#fff" stroke="#ff0000" stroke-width="2.0"/>
<circle cx="447.63" cy="154.35" r="2.35" fill="#fff" stroke="#ff0000" stroke-width="2.0"/>
<circle cx="454.76" cy="147.57" r="2.35" fill="#fff" stroke="#ff0000" stroke-width="2.0"/>
<circle cx="463.05" cy="140.68" r="2.35" fill="#fff" stroke="#ff0000" stroke-width="2.0"/>
<circle cx="472.86" cy="132.04" r="2.35" fill="#fff" stroke="#ff0000" stroke-width="2.0"/>
<circle cx="484.89" cy="121.76" r="2.35" fill="#fff" stroke="#ff0000" stroke-width="2.0"/>
<circle cx="499.96" cy="109.03" r="2.35" fill="#fff" stroke="#ff0000" stroke-width="2.0"/>
<circle cx="515.61" cy="93.73" r="2.35" fill="#fff" stroke="#ff0000" stroke-width="2.0"/>
<circle cx="537.92" cy="75.62" r="2.35" fill="#fff" stroke="#ff0000" stroke-width="2.0"/>
<line x1="359.1" y1="186" x2="362.6" y2="186" stroke="#000" stroke-width="1.6" />
<text x="356.9" y="189.7" font-size="12" text-anchor="end" fill="#000" >0</text>
<line x1="362.6" y1="186" x2="362.6" y2="189.5" stroke="#000" stroke-width="1.6" />
<text x="362.6" y="200.5" font-size="12" text-anchor="middle" fill="#000" >0</text>
<line x1="359.1" y1="150.96" x2="362.6" y2="150.96" stroke="#000" stroke-width="1.6" />
<text x="356.9" y="154.66" font-size="12" text-anchor="end" fill="#000" >30</text>
<line x1="397.64" y1="186" x2="397.64" y2="189.5" stroke="#000" stroke-width="1.6" />
<text x="397.64" y="200.5" font-size="12" text-anchor="middle" fill="#000" >30</text>
<line x1="359.1" y1="115.92" x2="362.6" y2="115.92" stroke="#000" stroke-width="1.6" />
<text x="356.9" y="119.62" font-size="12" text-anchor="end" fill="#000" >60</text>
<line x1="432.68" y1="186" x2="432.68" y2="189.5" stroke="#000" stroke-width="1.6" />
<text x="432.68" y="200.5" font-size="12" text-anchor="middle" fill="#000" >60</text>
<line x1="359.1" y1="80.88" x2="362.6" y2="80.88" stroke="#000" stroke-width="1.6" />
<text x="356.9" y="84.58" font-size="12" text-anchor="end" fill="#000" >90</text>
<line x1="467.72" y1="186" x2="467.72" y2="189.5" stroke="#000" stroke-width="1.6" />
<text x="467.72" y="200.5" font-size="12" text-anchor="middle" fill="#000" >90</text>
<line x1="359.1" y1="45.84" x2="362.6" y2="45.84" stroke="#000" stroke-width="1.6" />
<text x="356.9" y="49.54" font-size="12" text-anchor="end" fill="#000" >120</text>
<line x1="502.76" y1="186" x2="502.76" y2="189.5" stroke="#000" stroke-width="1.6" />
<text x="502.76" y="200.5" font-size="12" text-anchor="middle" fill="#000" >120</text>
<line x1="359.1" y1="10.8" x2="362.6" y2="10.8" stroke="#000" stroke-width="1.6" />
<text x="356.9" y="14.5" font-size="12" text-anchor="end" fill="#000" >150</text>
<line x1="537.8" y1="186" x2="537.8" y2="189.5" stroke="#000" stroke-width="1.6" />
<text x="537.8" y="200.5" font-size="12" text-anchor="middle" fill="#000" >150</text>
<rect x="366.6" y="14.3" width="74.7" height="60" fill="#fff" stroke="#000" stroke-width="1.3"/>
<circle cx="381.6" cy="22.4" r="2.35" fill="none" stroke="#8000ff" stroke-width="2.0"/>
<text x="394.5" y="26.3" font-size="11.6" text-anchor="start" fill="#000" >x = 0.7</text>
<circle cx="381.6" cy="36.8" r="2.35" fill="none" stroke="#ff0000" stroke-width="2.0"/>
<text x="394.5" y="40.7" font-size="11.6" text-anchor="start" fill="#000" >x = 0.5</text>
<circle cx="381.6" cy="51.2" r="2.35" fill="none" stroke="#0000ff" stroke-width="2.0"/>
<text x="394.5" y="55.1" font-size="11.6" text-anchor="start" fill="#000" >x = 0.3</text>
<circle cx="381.6" cy="65.6" r="2.35" fill="none" stroke="#000" stroke-width="2.0"/>
<text x="394.5" y="69.5" font-size="11.6" text-anchor="start" fill="#000" >x = 0</text>
<text transform="translate(333,97.6) rotate(-90)" x="0" y="0" font-size="15" text-anchor="middle" fill="#000">-Z'' (Ω)</text>
<text x="449.8" y="222.6" font-size="14.5" text-anchor="middle" fill="#000" >Z' (Ω)</text>
<line x1="89.1" y1="305.57" x2="236.7" y2="404.51" stroke="#000" stroke-width="1.8" stroke-dasharray="4 3.8"/>
<line x1="89.1" y1="280.79" x2="236.7" y2="375.18" stroke="#8000ff" stroke-width="1.8" stroke-dasharray="4 3.8"/>
<line x1="89.1" y1="268.42" x2="236.7" y2="356.6" stroke="#0000ff" stroke-width="1.8" stroke-dasharray="4 3.8"/>
<line x1="89.1" y1="258.51" x2="236.7" y2="335.24" stroke="#ff0000" stroke-width="1.8" stroke-dasharray="4 3.8"/>
<circle cx="89.1" cy="306.8" r="2.4" fill="#fff" stroke="#000" stroke-width="1.55"/>
<circle cx="113.6" cy="323" r="2.4" fill="#fff" stroke="#000" stroke-width="1.55"/>
<circle cx="139.6" cy="337.2" r="2.4" fill="#fff" stroke="#000" stroke-width="1.55"/>
<circle cx="169.5" cy="357.8" r="2.4" fill="#fff" stroke="#000" stroke-width="1.55"/>
<circle cx="201.5" cy="381.6" r="2.4" fill="#fff" stroke="#000" stroke-width="1.55"/>
<circle cx="236.7" cy="405.5" r="2.4" fill="#fff" stroke="#000" stroke-width="1.55"/>
<circle cx="89.1" cy="282" r="2.4" fill="#fff" stroke="#8000ff" stroke-width="1.55"/>
<circle cx="113.6" cy="296.5" r="2.4" fill="#fff" stroke="#8000ff" stroke-width="1.55"/>
<circle cx="139.6" cy="310.9" r="2.4" fill="#fff" stroke="#8000ff" stroke-width="1.55"/>
<circle cx="169.5" cy="333.1" r="2.4" fill="#fff" stroke="#8000ff" stroke-width="1.55"/>
<circle cx="201.5" cy="351.8" r="2.4" fill="#fff" stroke="#8000ff" stroke-width="1.55"/>
<circle cx="236.7" cy="376.1" r="2.4" fill="#fff" stroke="#8000ff" stroke-width="1.55"/>
<circle cx="89.1" cy="271.9" r="2.4" fill="#fff" stroke="#0000ff" stroke-width="1.55"/>
<circle cx="113.6" cy="279.8" r="2.4" fill="#fff" stroke="#0000ff" stroke-width="1.55"/>
<circle cx="139.6" cy="296.4" r="2.4" fill="#fff" stroke="#0000ff" stroke-width="1.55"/>
<circle cx="169.5" cy="317.2" r="2.4" fill="#fff" stroke="#0000ff" stroke-width="1.55"/>
<circle cx="201.5" cy="337" r="2.4" fill="#fff" stroke="#0000ff" stroke-width="1.55"/>
<circle cx="236.7" cy="356.4" r="2.4" fill="#fff" stroke="#0000ff" stroke-width="1.55"/>
<circle cx="89.1" cy="261" r="2.4" fill="#fff" stroke="#ff0000" stroke-width="1.55"/>
<circle cx="113.6" cy="268.1" r="2.4" fill="#fff" stroke="#ff0000" stroke-width="1.55"/>
<circle cx="139.6" cy="287.5" r="2.4" fill="#fff" stroke="#ff0000" stroke-width="1.55"/>
<circle cx="169.5" cy="296.4" r="2.4" fill="#fff" stroke="#ff0000" stroke-width="1.55"/>
<circle cx="201.5" cy="317.4" r="2.4" fill="#fff" stroke="#ff0000" stroke-width="1.55"/>
<circle cx="236.7" cy="336.6" r="2.4" fill="#fff" stroke="#ff0000" stroke-width="1.55"/>
<path d="M72,247 L247,247 L247,421.7 L72,421.7 Z" fill="none" stroke="#000" stroke-width="2"/>
<line x1="72" y1="421.7" x2="72" y2="425.2" stroke="#000" stroke-width="1.5" />
<text x="72" y="436.3" font-size="11.5" text-anchor="middle" fill="#000" >2.6</text>
<line x1="93.88" y1="421.7" x2="93.88" y2="423.7" stroke="#000" stroke-width="1.5" />
<line x1="115.75" y1="421.7" x2="115.75" y2="425.2" stroke="#000" stroke-width="1.5" />
<text x="115.75" y="436.3" font-size="11.5" text-anchor="middle" fill="#000" >2.8</text>
<line x1="137.63" y1="421.7" x2="137.63" y2="423.7" stroke="#000" stroke-width="1.5" />
<line x1="159.5" y1="421.7" x2="159.5" y2="425.2" stroke="#000" stroke-width="1.5" />
<text x="159.5" y="436.3" font-size="11.5" text-anchor="middle" fill="#000" >3.0</text>
<line x1="181.38" y1="421.7" x2="181.38" y2="423.7" stroke="#000" stroke-width="1.5" />
<line x1="203.25" y1="421.7" x2="203.25" y2="425.2" stroke="#000" stroke-width="1.5" />
<text x="203.25" y="436.3" font-size="11.5" text-anchor="middle" fill="#000" >3.2</text>
<line x1="225.13" y1="421.7" x2="225.13" y2="423.7" stroke="#000" stroke-width="1.5" />
<line x1="247" y1="421.7" x2="247" y2="425.2" stroke="#000" stroke-width="1.5" />
<text x="247" y="436.3" font-size="11.5" text-anchor="middle" fill="#000" >3.4</text>
<line x1="68.5" y1="260.6" x2="72" y2="260.6" stroke="#000" stroke-width="1.5" />
<text x="65.5" y="264.6" font-size="11.5" text-anchor="end" fill="#000" >-4.0</text>
<line x1="70" y1="275.31" x2="72" y2="275.31" stroke="#000" stroke-width="1.5" />
<line x1="68.5" y1="290.02" x2="72" y2="290.02" stroke="#000" stroke-width="1.5" />
<text x="65.5" y="294.02" font-size="11.5" text-anchor="end" fill="#000" >-4.5</text>
<line x1="70" y1="304.73" x2="72" y2="304.73" stroke="#000" stroke-width="1.5" />
<line x1="68.5" y1="319.44" x2="72" y2="319.44" stroke="#000" stroke-width="1.5" />
<text x="65.5" y="323.44" font-size="11.5" text-anchor="end" fill="#000" >-5.0</text>
<line x1="70" y1="334.15" x2="72" y2="334.15" stroke="#000" stroke-width="1.5" />
<line x1="68.5" y1="348.86" x2="72" y2="348.86" stroke="#000" stroke-width="1.5" />
<text x="65.5" y="352.86" font-size="11.5" text-anchor="end" fill="#000" >-5.5</text>
<line x1="70" y1="363.57" x2="72" y2="363.57" stroke="#000" stroke-width="1.5" />
<line x1="68.5" y1="378.28" x2="72" y2="378.28" stroke="#000" stroke-width="1.5" />
<text x="65.5" y="382.28" font-size="11.5" text-anchor="end" fill="#000" >-6.0</text>
<line x1="70" y1="392.99" x2="72" y2="392.99" stroke="#000" stroke-width="1.5" />
<line x1="68.5" y1="407.7" x2="72" y2="407.7" stroke="#000" stroke-width="1.5" />
<text x="65.5" y="411.7" font-size="11.5" text-anchor="end" fill="#000" >-6.5</text>
<rect x="75.6" y="357.5" width="74.7" height="59" fill="#fff" stroke="#333" stroke-width="1.3"/>
<circle cx="90.9" cy="365.6" r="2.2" fill="none" stroke="#8000ff" stroke-width="1.8"/>
<text x="103.6" y="369.4" font-size="11.5" text-anchor="start" fill="#000" >x = 0.7</text>
<circle cx="90.9" cy="380.1" r="2.2" fill="none" stroke="#ff0000" stroke-width="1.8"/>
<text x="103.6" y="383.9" font-size="11.5" text-anchor="start" fill="#000" >x = 0.5</text>
<circle cx="90.9" cy="394.6" r="2.2" fill="none" stroke="#0000ff" stroke-width="1.8"/>
<text x="103.6" y="398.4" font-size="11.5" text-anchor="start" fill="#000" >x = 0.3</text>
<circle cx="90.9" cy="409.1" r="2.2" fill="none" stroke="#000" stroke-width="1.8"/>
<text x="103.6" y="412.9" font-size="11.5" text-anchor="start" fill="#000" >x = 0</text>
<text transform="translate(41.6,333.6) rotate(-90)" x="0" y="0" font-size="14.5" text-anchor="middle" fill="#000">lnσ (S/cm)</text>
<text x="159.6" y="456.5" font-size="14.8" text-anchor="middle" fill="#000" >1000/T (K<tspan font-size="9.5" dy="-5.5">-1</tspan><tspan dy="5.5">)</tspan></text>
<polyline points="337.7,376.39 396.56,317 435.8,274.51 475.04,346.8" fill="none" stroke="#000" stroke-width="1.9"/>
<polyline points="337.7,272.64 396.56,342.84 435.8,413.32 475.04,301.13" fill="none" stroke="#0000ff" stroke-width="1.9"/>
<path d="M337.7,365.33 L337.7,387.45 M335.3,365.33 L340.1,365.33 M335.3,387.45 L340.1,387.45" stroke="#000" stroke-width="1.7" fill="none"/>
<circle cx="337.7" cy="376.39" r="2.6" fill="#fff" stroke="#000" stroke-width="1.8"/>
<path d="M396.56,308.56 L396.56,325.44 M394.16,308.56 L398.96,308.56 M394.16,325.44 L398.96,325.44" stroke="#000" stroke-width="1.7" fill="none"/>
<circle cx="396.56" cy="317" r="2.6" fill="#fff" stroke="#000" stroke-width="1.8"/>
<path d="M435.8,262.87 L435.8,286.15 M433.4,262.87 L438.2,262.87 M433.4,286.15 L438.2,286.15" stroke="#000" stroke-width="1.7" fill="none"/>
<circle cx="435.8" cy="274.51" r="2.6" fill="#fff" stroke="#000" stroke-width="1.8"/>
<path d="M475.04,331.08 L475.04,362.51 M472.64,331.08 L477.44,331.08 M472.64,362.51 L477.44,362.51" stroke="#000" stroke-width="1.7" fill="none"/>
<circle cx="475.04" cy="346.8" r="2.6" fill="#fff" stroke="#000" stroke-width="1.8"/>
<circle cx="337.7" cy="272.64" r="2.6" fill="#fff" stroke="#0000ff" stroke-width="1.8"/>
<circle cx="396.56" cy="342.84" r="2.6" fill="#fff" stroke="#0000ff" stroke-width="1.8"/>
<circle cx="435.8" cy="413.32" r="2.6" fill="#fff" stroke="#0000ff" stroke-width="1.8"/>
<circle cx="475.04" cy="301.13" r="2.6" fill="#fff" stroke="#0000ff" stroke-width="1.8"/>
<path d="M494.3,247 L318.2,247 L318.2,421.7 L494.3,421.7" fill="none" stroke="#000" stroke-width="2"/>
<line x1="494.3" y1="247" x2="494.3" y2="421.7" stroke="#0000ff" stroke-width="2.1" />
<line x1="315" y1="421.7" x2="318.2" y2="421.7" stroke="#000" stroke-width="1.5" />
<text x="312.3" y="425.7" font-size="11" text-anchor="end" fill="#000" >0</text>
<line x1="316.2" y1="407.15" x2="318.2" y2="407.15" stroke="#000" stroke-width="1.5" />
<line x1="315" y1="392.6" x2="318.2" y2="392.6" stroke="#000" stroke-width="1.5" />
<text x="312.3" y="396.6" font-size="11" text-anchor="end" fill="#000" >1</text>
<line x1="316.2" y1="378.05" x2="318.2" y2="378.05" stroke="#000" stroke-width="1.5" />
<line x1="315" y1="363.5" x2="318.2" y2="363.5" stroke="#000" stroke-width="1.5" />
<text x="312.3" y="367.5" font-size="11" text-anchor="end" fill="#000" >2</text>
<line x1="316.2" y1="348.95" x2="318.2" y2="348.95" stroke="#000" stroke-width="1.5" />
<line x1="315" y1="334.4" x2="318.2" y2="334.4" stroke="#000" stroke-width="1.5" />
<text x="312.3" y="338.4" font-size="11" text-anchor="end" fill="#000" >3</text>
<line x1="316.2" y1="319.85" x2="318.2" y2="319.85" stroke="#000" stroke-width="1.5" />
<line x1="315" y1="305.3" x2="318.2" y2="305.3" stroke="#000" stroke-width="1.5" />
<text x="312.3" y="309.3" font-size="11" text-anchor="end" fill="#000" >4</text>
<line x1="316.2" y1="290.75" x2="318.2" y2="290.75" stroke="#000" stroke-width="1.5" />
<line x1="315" y1="276.2" x2="318.2" y2="276.2" stroke="#000" stroke-width="1.5" />
<text x="312.3" y="280.2" font-size="11" text-anchor="end" fill="#000" >5</text>
<line x1="316.2" y1="261.65" x2="318.2" y2="261.65" stroke="#000" stroke-width="1.5" />
<line x1="315" y1="247.1" x2="318.2" y2="247.1" stroke="#000" stroke-width="1.5" />
<text x="312.3" y="251.1" font-size="11" text-anchor="end" fill="#000" >6</text>
<line x1="337.7" y1="421.7" x2="337.7" y2="425.2" stroke="#000" stroke-width="1.5" />
<text x="337.7" y="436.4" font-size="11" text-anchor="middle" fill="#000" >0</text>
<line x1="396.56" y1="421.7" x2="396.56" y2="425.2" stroke="#000" stroke-width="1.5" />
<text x="396.56" y="436.4" font-size="11" text-anchor="middle" fill="#000" >0.3</text>
<line x1="435.8" y1="421.7" x2="435.8" y2="425.2" stroke="#000" stroke-width="1.5" />
<text x="435.8" y="436.4" font-size="11" text-anchor="middle" fill="#000" >0.5</text>
<line x1="475.04" y1="421.7" x2="475.04" y2="425.2" stroke="#000" stroke-width="1.5" />
<text x="475.04" y="436.4" font-size="11" text-anchor="middle" fill="#000" >0.7</text>
<line x1="367.13" y1="421.7" x2="367.13" y2="423.7" stroke="#000" stroke-width="1.5" />
<line x1="416.18" y1="421.7" x2="416.18" y2="423.7" stroke="#000" stroke-width="1.5" />
<line x1="455.42" y1="421.7" x2="455.42" y2="423.7" stroke="#000" stroke-width="1.5" />
<line x1="494.3" y1="407.45" x2="497.8" y2="407.45" stroke="#0000ff" stroke-width="1.5" />
<text x="500.3" y="411.45" font-size="11" text-anchor="start" fill="#0000ff" >0.17</text>
<line x1="494.3" y1="392.76" x2="496.3" y2="392.76" stroke="#0000ff" stroke-width="1.5" />
<line x1="494.3" y1="378.08" x2="497.8" y2="378.08" stroke="#0000ff" stroke-width="1.5" />
<text x="500.3" y="382.08" font-size="11" text-anchor="start" fill="#0000ff" >0.18</text>
<line x1="494.3" y1="363.39" x2="496.3" y2="363.39" stroke="#0000ff" stroke-width="1.5" />
<line x1="494.3" y1="348.71" x2="497.8" y2="348.71" stroke="#0000ff" stroke-width="1.5" />
<text x="500.3" y="352.71" font-size="11" text-anchor="start" fill="#0000ff" >0.19</text>
<line x1="494.3" y1="334.02" x2="496.3" y2="334.02" stroke="#0000ff" stroke-width="1.5" />
<line x1="494.3" y1="319.34" x2="497.8" y2="319.34" stroke="#0000ff" stroke-width="1.5" />
<text x="500.3" y="323.34" font-size="11" text-anchor="start" fill="#0000ff" >0.20</text>
<line x1="494.3" y1="304.65" x2="496.3" y2="304.65" stroke="#0000ff" stroke-width="1.5" />
<line x1="494.3" y1="289.97" x2="497.8" y2="289.97" stroke="#0000ff" stroke-width="1.5" />
<text x="500.3" y="293.97" font-size="11" text-anchor="start" fill="#0000ff" >0.21</text>
<line x1="494.3" y1="275.28" x2="496.3" y2="275.28" stroke="#0000ff" stroke-width="1.5" />
<line x1="494.3" y1="260.6" x2="497.8" y2="260.6" stroke="#0000ff" stroke-width="1.5" />
<text x="500.3" y="264.6" font-size="11" text-anchor="start" fill="#0000ff" >0.22</text>
<text transform="translate(301.3,335) rotate(-90)" x="0" y="0" font-size="14.8" text-anchor="middle" fill="#000">Ionic conductivity (mS/cm)</text>
<text transform="translate(538.5,333.8) rotate(-90)" x="0" y="0" font-size="14.9" text-anchor="middle" fill="#0000ff">Activation energy (eV)</text>
<text x="405.5" y="458.3" font-size="14.5" text-anchor="middle" fill="#000" >x, Cl contents</text>
</svg></body></html>
